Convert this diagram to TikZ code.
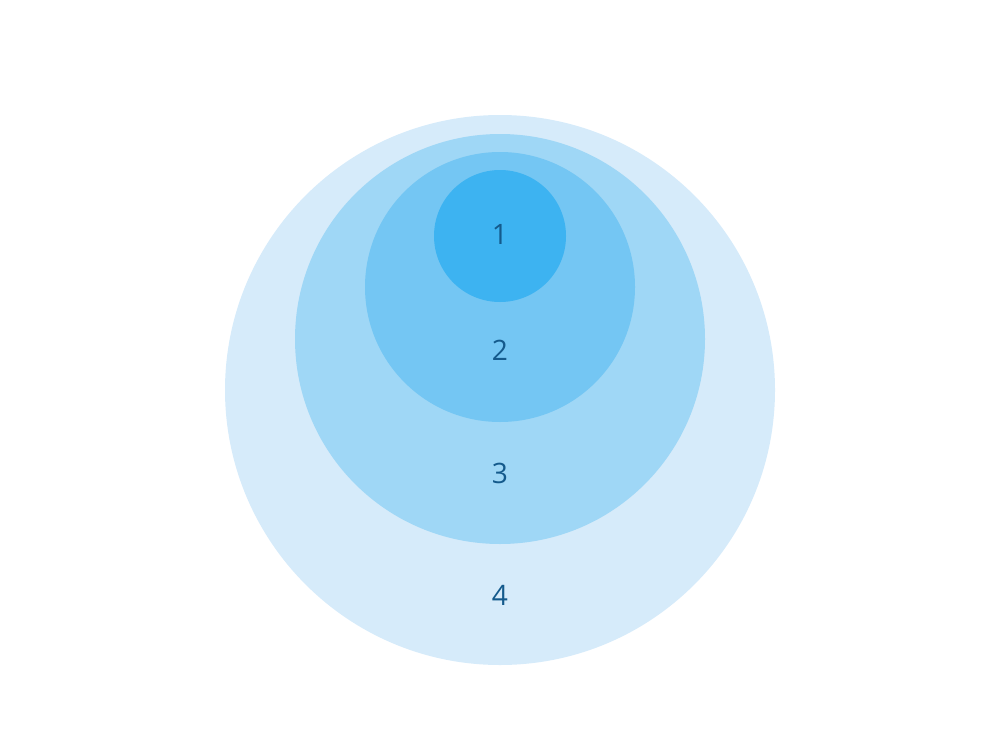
\documentclass[tikz,border=0pt]{standalone}
\usepackage{fontspec}
\setmainfont{Open Sans}
\usepackage{tikz}
\usetikzlibrary{positioning}
\definecolor{ringfour}{HTML}{D6EBFA}
\definecolor{ringthree}{HTML}{9FD7F6}
\definecolor{ringtwo}{HTML}{74C6F3}
\definecolor{ringone}{HTML}{3DB3F1}
\definecolor{numblue}{HTML}{145A8C}
\tikzstyle{ring} = [circle, draw=none, inner sep=0pt]
\tikzstyle{num} = [draw=none, text=numblue, font=\fontsize{16}{18}\selectfont, inner sep=0pt]

\begin{document}
\begin{tikzpicture}[x=0.02cm,y=-0.02cm]
\useasboundingbox (0,0) rectangle (1000,750);

% nested circles, biggest first
\node [ring, fill=ringfour, minimum size=550*0.02cm] (four) at (500,390) {};
\node [ring, fill=ringthree, minimum size=410*0.02cm] (three) at (500,339) {};
\node [ring, fill=ringtwo, minimum size=270*0.02cm] (two) at (500,287) {};
\node [ring, fill=ringone, minimum size=132*0.02cm] (one) at (500,236) {};

% labels
\node [num] (lone) at (500,234) {1};
\node [num] (ltwo) at (500,350) {2};
\node [num] (lthree) at (500,473) {3};
\node [num] (lfour) at (500,595) {4};

\end{tikzpicture}
\end{document}
